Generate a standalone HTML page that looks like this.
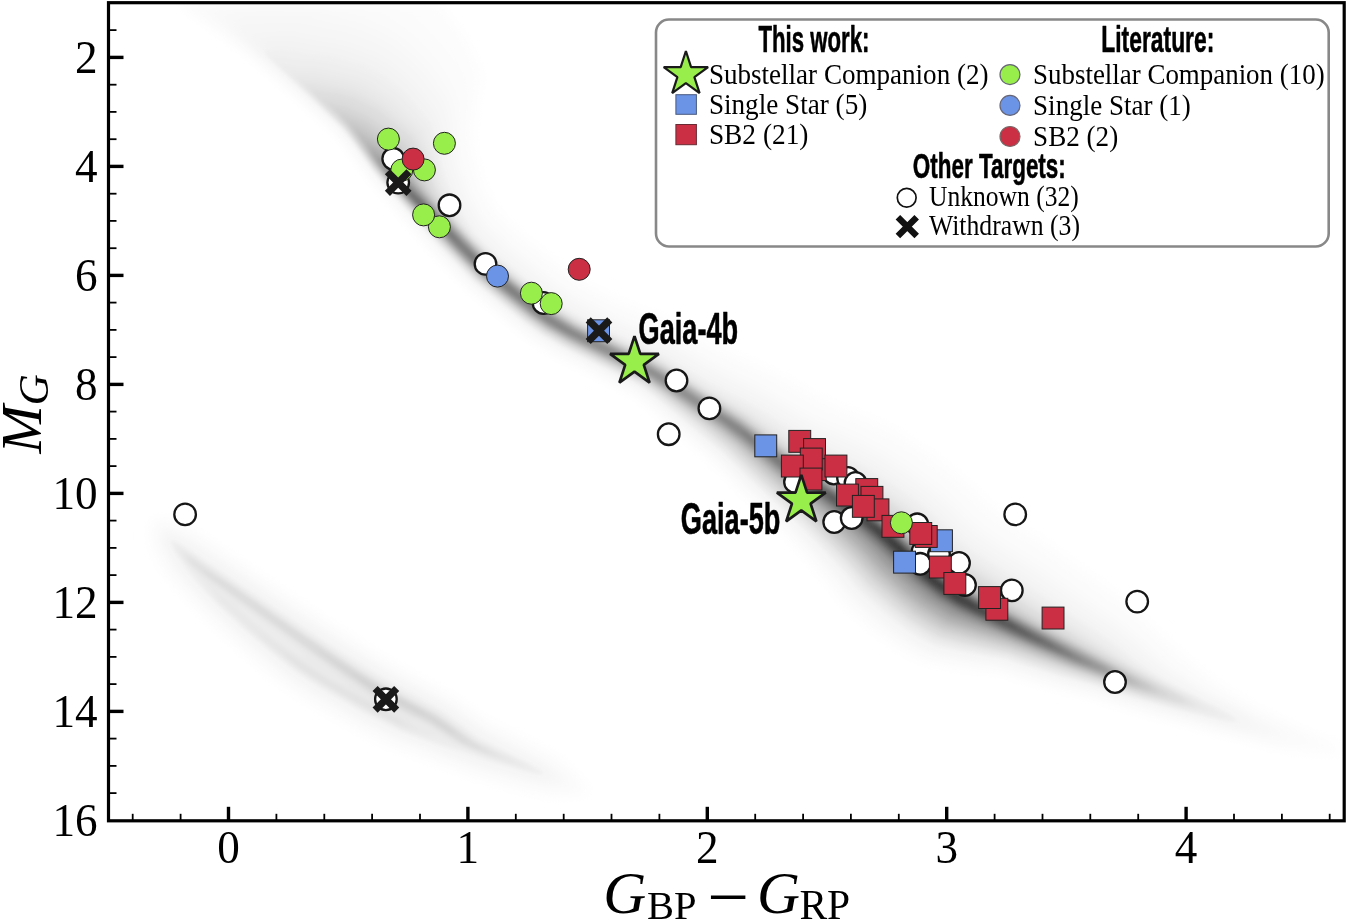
<!DOCTYPE html>
<html lang="en"><head><meta charset="utf-8"><title>Gaia colour-magnitude diagram</title>
<style>html,body{margin:0;padding:0;background:#fff;overflow:hidden}svg{display:block}text{font-family:"Liberation Serif","DejaVu Serif",serif;fill:#000}.cb{font-family:"Liberation Sans","DejaVu Sans",sans-serif;font-weight:bold}.u{fill:#fff;stroke:#161616;stroke-width:2.3}.g{fill:#98ee4a;stroke:#222;stroke-width:1}.b{fill:#6b93e6;stroke:#222;stroke-width:1}.r{fill:#cb2f43;stroke:#222;stroke-width:1}.x{stroke:#1a1a1a;stroke-width:7.2;fill:none}.s2{fill:#98ee4a;stroke:#1a1a1a;stroke-width:2.2;stroke-linejoin:bevel}.s{fill:#98ee4a;stroke:#1a1a1a;stroke-width:2.7;stroke-linejoin:bevel}</style></head><body>
<svg width="1347" height="922" viewBox="0 0 1347 922">
<defs><filter id="bl" x="-5%" y="-5%" width="110%" height="110%"><feGaussianBlur stdDeviation="1.6"/></filter><filter id="bl2" x="-5%" y="-5%" width="110%" height="110%"><feGaussianBlur stdDeviation="7"/></filter><clipPath id="cp"><rect x="108.5" y="2.7" width="1235.7" height="818.0999999999999"/></clipPath></defs>
<rect width="1347" height="922" fill="#fff"/>
<g clip-path="url(#cp)"><g filter="url(#bl2)">
<path fill="rgb(252,252,252)" fill-rule="evenodd" d="M174.3,0.0 434.4,0.0 446.0,12.6 462.0,33.3 469.2,46.0 478.9,68.0 481.5,80.0 476.6,100.0 476.5,108.0 473.9,120.0 472.9,136.0 474.4,152.0 479.2,172.0 483.6,186.0 496.0,209.7 520.0,233.6 570.0,273.3 593.5,288.0 622.0,302.0 662.0,317.3 680.0,325.2 732.0,353.6 758.0,364.5 780.0,375.3 823.9,400.0 890.0,426.9 923.0,448.0 950.0,467.7 964.6,480.0 996.1,510.0 1044.0,540.9 1130.0,604.0 1176.0,648.9 1196.0,665.1 1210.1,678.0 1256.0,708.1 1302.0,729.6 1334.0,742.7 1342.2,748.0 1344.5,752.0 1340.1,754.0 1322.0,754.0 1284.0,748.7 1266.0,745.0 1138.0,711.0 1088.0,695.1 1056.0,687.7 1016.0,676.9 1000.0,671.7 956.0,667.5 922.0,661.6 896.0,646.9 877.9,634.0 846.0,607.5 826.0,580.9 794.0,543.6 772.1,520.0 748.0,497.9 710.0,459.2 646.0,402.8 634.6,394.0 562.0,357.0 538.0,342.8 520.0,329.7 468.0,286.4 433.1,250.0 370.8,176.0 346.0,141.9 333.9,128.0 251.9,56.0ZM150.9,522.0 154.0,518.3 156.0,517.4 170.0,519.0 178.0,521.4 192.0,528.7 322.3,618.0 380.3,656.0 404.0,670.0 450.0,694.7 488.0,721.4 532.0,742.5 556.0,756.3 573.1,770.0 578.0,776.8 589.1,788.0 590.0,792.6 584.0,795.4 570.0,795.6 562.0,797.0 548.0,796.4 522.0,790.8 476.0,777.2 388.0,745.4 348.0,724.9 310.0,703.2 282.0,684.8 248.0,657.0 204.0,616.4 176.0,586.2 163.1,570.0 152.9,552.0 149.3,538.0Z"/>
<path fill="rgb(250,250,250)" fill-rule="evenodd" d="M181.6,0.0 369.6,0.0 380.0,4.5 404.0,18.4 418.3,30.0 437.4,50.0 447.4,64.0 460.7,88.0 463.2,98.0 462.0,106.0 462.6,124.0 461.5,136.0 462.9,156.0 473.7,192.0 486.4,216.0 490.0,220.8 509.4,240.0 556.7,278.0 573.5,290.0 595.0,302.0 616.0,312.3 674.0,336.2 724.0,364.2 764.0,382.8 816.0,412.7 868.0,434.9 884.0,442.6 916.0,463.3 938.7,480.0 952.0,491.0 977.5,516.0 988.0,524.7 1038.0,556.8 1124.0,618.0 1171.7,662.0 1206.0,688.8 1254.0,714.1 1293.9,732.0 1309.2,740.0 1314.7,744.0 1310.0,745.7 1288.0,744.6 1258.0,739.0 1134.0,706.1 1090.0,691.9 1054.0,683.1 1000.0,667.2 958.0,662.3 926.0,656.2 900.0,641.4 880.0,626.9 850.4,602.0 837.0,584.0 800.0,542.0 774.0,515.1 746.6,490.0 710.7,454.0 650.0,401.8 637.5,392.0 564.0,354.7 540.0,340.8 524.0,329.4 470.0,284.8 434.7,248.0 381.3,186.0 366.7,168.0 348.0,141.7 334.0,125.7 250.8,52.0ZM156.0,523.0 160.0,522.4 180.1,530.0 204.0,543.0 313.0,618.0 374.2,658.0 401.1,674.0 448.0,699.3 486.0,726.4 524.0,745.3 542.0,755.8 570.0,777.2 579.6,786.0 580.0,788.0 578.0,789.7 572.0,790.1 538.0,787.1 516.0,782.7 474.0,770.8 425.2,752.0 392.0,740.9 350.0,719.5 308.0,695.3 286.0,680.7 250.0,650.8 208.0,612.2 180.0,582.3 167.6,566.0 160.0,550.9 154.2,526.0Z"/>
<path fill="rgb(248,248,248)" fill-rule="evenodd" d="M206.0,10.5 228.0,12.3 242.0,8.0 262.0,5.0 274.0,5.2 282.0,6.5 304.0,6.3 320.0,9.0 340.0,15.1 356.0,18.1 370.0,23.6 388.0,32.1 396.0,36.8 410.0,47.9 428.0,65.9 437.0,78.0 451.7,102.0 452.8,106.0 452.7,114.0 454.5,126.0 454.2,140.0 456.7,162.0 467.9,196.0 482.0,221.5 485.5,226.0 505.8,246.0 554.0,284.6 570.0,296.0 587.6,306.0 612.0,318.0 650.0,333.4 672.0,343.4 720.0,370.8 762.0,391.0 810.0,419.4 864.0,443.5 882.0,452.8 910.0,471.0 934.0,488.7 946.0,498.7 970.0,522.3 982.0,532.3 1010.0,551.0 1030.0,563.0 1118.0,624.3 1172.4,672.0 1206.0,693.9 1278.0,728.9 1287.3,734.0 1292.0,738.1 1286.0,740.0 1274.0,739.0 1238.0,731.3 1134.0,703.6 1091.5,690.0 1062.0,682.8 1000.0,664.3 964.0,659.7 928.0,652.5 900.0,636.3 883.3,624.0 854.0,599.2 838.0,578.7 796.0,532.6 777.6,514.0 748.0,487.1 722.0,460.8 696.0,437.6 648.0,397.4 634.5,388.0 564.0,352.6 544.0,341.2 524.0,327.1 470.0,282.6 436.0,247.2 379.1,182.0 369.4,170.0 348.0,139.9 337.9,128.0 254.0,52.2 209.3,16.0 205.2,12.0ZM158.0,527.8 160.0,525.8 164.0,526.7 202.0,546.5 312.4,622.0 364.5,656.0 397.8,676.0 444.0,700.9 484.0,729.6 524.0,750.6 556.0,771.1 568.4,780.0 571.4,784.0 570.7,786.0 566.0,786.6 558.0,785.6 516.0,777.8 488.0,770.8 468.0,764.6 425.7,748.0 392.0,736.4 354.0,717.1 310.0,691.6 290.0,678.6 262.0,655.5 211.6,610.0 192.0,589.7 178.1,574.0 171.5,564.0 161.1,540.0Z"/>
<path fill="rgb(246,246,246)" fill-rule="evenodd" d="M230.0,26.8 234.0,24.8 250.0,22.0 272.0,22.4 286.0,20.9 300.0,21.8 320.0,25.6 330.0,28.6 342.0,30.0 350.0,32.1 380.0,43.8 390.0,49.2 410.0,65.3 420.0,75.2 438.8,100.0 444.9,110.0 448.9,132.0 450.0,154.0 452.3,166.0 464.5,200.0 480.0,227.1 502.9,250.0 553.0,290.0 567.3,300.0 584.7,310.0 612.0,323.3 668.0,347.2 718.0,375.9 742.0,387.1 762.0,397.6 810.0,426.5 860.0,449.1 880.0,459.7 906.0,476.7 929.6,494.0 942.0,504.4 968.0,529.8 978.0,538.0 1030.0,571.3 1118.0,631.9 1166.0,673.4 1204.6,696.0 1236.0,711.0 1266.0,726.8 1274.4,732.0 1275.4,734.0 1264.0,734.2 1228.0,726.8 1132.0,701.2 1090.9,688.0 1056.0,679.1 1002.0,662.5 966.0,657.4 936.0,651.5 928.0,649.1 902.3,634.0 886.0,622.0 855.6,596.0 838.0,574.0 802.0,535.2 776.7,510.0 750.0,485.7 722.0,457.8 653.9,400.0 637.7,388.0 564.0,351.0 540.0,337.0 524.0,325.4 472.0,282.8 436.5,246.0 378.4,180.0 368.9,168.0 352.0,143.8 338.0,126.9 254.0,50.1 230.8,30.0 229.5,28.0ZM162.0,530.0 164.0,529.7 168.0,531.3 200.0,549.4 310.0,624.0 349.9,650.0 395.9,678.0 442.0,703.0 456.0,712.3 482.0,732.1 548.0,768.9 558.9,776.0 564.9,782.0 562.0,783.3 558.0,783.1 538.0,779.2 480.0,765.0 454.0,756.2 392.0,732.9 354.0,713.4 312.0,688.9 292.0,675.8 264.0,652.8 214.0,608.0 194.6,588.0 180.7,572.0 174.6,562.0 162.8,538.0 161.3,532.0Z"/>
<path fill="rgb(244,244,244)" fill-rule="evenodd" d="M242.6,36.0 246.0,34.8 262.0,34.6 280.0,32.8 292.0,33.1 304.0,34.7 320.0,38.6 334.0,40.1 348.0,43.5 376.0,53.7 388.0,60.7 406.0,74.7 414.0,82.5 432.0,104.6 438.6,114.0 444.4,136.0 445.9,154.0 449.1,170.0 462.0,203.3 477.6,230.0 500.0,252.3 552.0,293.9 569.9,306.0 588.4,316.0 609.0,326.0 650.0,343.2 670.0,352.8 712.0,377.4 758.0,400.6 810.0,431.9 872.0,461.0 900.0,479.0 923.5,496.0 938.0,508.0 962.5,532.0 974.4,542.0 1002.0,560.4 1026.0,575.0 1114.0,635.0 1164.4,676.0 1204.0,697.8 1237.3,714.0 1259.4,728.0 1256.0,729.1 1246.0,728.3 1228.0,724.9 1132.0,699.7 1092.0,686.8 1056.0,677.5 1002.0,660.8 962.0,654.5 932.0,647.9 916.0,639.5 900.0,629.2 882.0,615.2 857.4,594.0 838.0,570.2 802.1,532.0 778.0,508.4 752.0,485.0 722.0,455.3 656.1,400.0 640.0,387.9 566.0,350.8 542.0,337.0 522.0,322.5 472.0,281.4 437.7,246.0 380.9,182.0 371.1,170.0 350.0,140.1 340.0,127.9 247.7,42.0ZM164.8,534.0 166.0,533.3 170.0,534.7 198.0,551.6 240.0,579.1 308.0,625.9 362.0,660.6 398.1,682.0 444.0,707.2 458.0,716.9 476.0,731.5 486.0,738.0 546.0,769.8 555.4,776.0 557.3,778.0 557.0,780.0 552.0,780.1 538.0,777.3 476.0,760.8 452.0,753.0 398.0,733.0 362.0,715.0 314.0,687.1 294.0,674.0 278.0,661.3 244.0,632.3 213.0,604.0 195.8,586.0 182.5,570.0 167.4,544.0 164.9,538.0Z"/>
<path fill="rgb(242,242,242)" fill-rule="evenodd" d="M256.6,46.0 258.0,44.2 268.0,42.4 280.0,42.0 300.0,44.1 316.0,47.6 330.0,48.6 344.0,51.9 368.0,59.7 384.0,68.1 400.0,80.0 408.0,87.2 434.0,118.2 441.3,142.0 443.1,158.0 446.1,172.0 458.7,204.0 475.7,232.0 498.0,254.2 550.3,296.0 568.0,308.0 586.4,318.0 668.0,355.3 713.2,382.0 758.0,404.8 804.0,433.3 870.0,465.0 900.0,484.3 924.0,502.0 935.9,512.0 960.3,536.0 972.5,546.0 1024.0,578.9 1112.0,638.4 1138.3,660.0 1154.6,672.0 1167.1,680.0 1229.6,712.0 1239.6,718.0 1246.6,724.0 1240.0,724.9 1230.0,723.5 1172.0,709.2 1126.0,696.7 1092.0,685.5 1060.0,677.2 1004.0,659.8 960.0,652.4 934.0,646.4 920.0,639.3 904.0,629.3 890.0,618.9 858.8,592.0 838.0,567.1 798.0,525.3 748.0,479.0 722.0,453.3 654.0,396.8 638.8,386.0 568.0,350.7 544.0,337.2 524.0,323.0 472.0,280.3 438.0,245.2 383.3,184.0 371.8,170.0 352.0,141.7 340.0,127.0 260.8,52.0ZM168.0,537.0 170.0,537.0 174.0,538.8 236.0,579.1 306.9,628.0 350.3,656.0 396.0,683.3 442.0,708.6 456.0,718.3 478.2,736.0 492.4,744.0 536.5,766.0 546.3,772.0 550.1,776.0 548.0,777.2 540.0,776.2 484.0,760.7 450.0,750.3 402.0,732.8 366.0,715.3 314.0,685.0 296.0,673.2 278.0,659.2 250.0,635.5 215.2,604.0 196.5,584.0 183.8,568.0 170.1,546.0 167.6,540.0Z"/>
</g><g filter="url(#bl)">
<path fill="rgb(240,240,240)" fill-rule="evenodd" d="M264.5,52.0 266.0,50.3 282.0,50.3 296.0,51.8 310.0,54.7 330.0,56.3 366.0,66.7 382.0,75.3 396.0,85.4 405.8,94.0 430.3,122.0 438.2,144.0 440.2,160.0 446.0,180.0 456.9,206.0 474.0,232.8 497.3,256.0 549.8,298.0 564.4,308.0 582.3,318.0 606.8,330.0 654.0,351.0 670.0,359.2 711.0,384.0 752.0,405.0 804.0,437.1 862.0,464.7 900.0,488.8 922.0,505.1 932.6,514.0 960.0,540.7 974.6,552.0 1024.0,583.2 1110.0,641.0 1136.5,662.0 1154.1,674.0 1167.7,682.0 1229.1,714.0 1236.8,720.0 1236.0,721.0 1232.0,721.5 1224.0,720.4 1182.0,710.7 1132.0,697.4 1090.6,684.0 1060.0,676.0 1006.0,659.1 956.0,649.8 934.0,644.3 922.0,638.2 905.6,628.0 886.0,613.0 860.0,590.2 845.1,572.0 808.0,533.1 782.0,507.8 749.0,478.0 722.0,451.4 654.6,396.0 637.1,384.0 566.0,348.8 542.0,335.0 526.0,323.5 474.0,281.2 438.0,244.2 380.5,180.0 370.9,168.0 350.0,138.2 340.0,126.1 268.9,58.0ZM170.3,542.0 172.0,539.9 182.0,545.3 327.9,644.0 375.9,674.0 442.0,711.0 478.2,738.0 528.0,762.8 539.9,770.0 544.1,774.0 538.0,774.2 528.0,771.9 496.0,762.7 464.0,752.1 444.0,746.6 400.0,730.7 364.0,712.7 320.0,687.3 298.0,673.0 280.0,659.2 246.0,630.4 217.1,604.0 198.7,584.0 190.0,573.3 175.1,552.0Z"/>
<path fill="rgb(238,238,238)" fill-rule="evenodd" d="M272.3,58.0 274.0,57.0 282.0,57.2 302.0,60.5 316.0,61.0 334.0,64.0 346.0,67.8 358.0,70.4 368.0,74.3 376.0,78.6 390.0,88.2 402.0,98.0 427.8,126.0 435.3,146.0 437.9,162.0 444.1,182.0 455.4,208.0 470.1,230.0 484.0,245.1 497.6,258.0 550.2,300.0 565.1,310.0 583.2,320.0 662.0,357.0 709.9,386.0 754.0,409.3 798.0,437.2 852.0,463.2 870.0,473.1 896.0,489.9 920.0,507.6 930.1,516.0 958.0,543.2 971.8,554.0 1064.0,613.5 1112.0,645.9 1141.6,668.0 1164.0,681.3 1218.5,710.0 1224.6,714.0 1228.4,718.0 1218.0,717.4 1172.0,707.1 1132.0,696.4 1093.8,684.0 1028.0,665.2 1006.0,657.7 964.0,649.9 934.0,642.7 906.0,626.2 888.0,612.4 862.3,590.0 846.0,570.4 806.0,529.0 753.0,480.0 722.2,450.0 650.9,392.0 638.8,384.0 568.0,349.0 544.0,335.4 524.0,321.1 474.0,280.3 438.6,244.0 382.7,182.0 372.9,170.0 356.0,145.6 342.0,127.6 282.5,70.0ZM173.2,544.0 174.0,543.1 178.0,544.3 194.0,554.4 304.2,630.0 359.6,666.0 396.9,688.0 438.0,710.4 454.0,721.3 475.8,738.0 490.5,746.0 524.0,761.9 536.5,770.0 534.0,771.5 528.0,770.6 482.0,757.2 462.6,750.0 441.0,744.0 402.0,730.4 366.0,712.6 318.0,684.8 296.0,670.3 276.0,654.6 248.0,630.8 218.0,603.3 204.1,588.0 186.0,565.6 176.4,552.0Z"/>
<path fill="rgb(236,236,236)" fill-rule="evenodd" d="M280.0,63.9 284.0,63.7 300.0,66.4 310.0,66.2 324.0,67.7 344.0,73.1 352.0,74.3 360.0,76.7 374.0,83.7 394.8,98.0 424.4,128.0 433.6,150.0 435.9,164.0 441.6,182.0 454.0,209.2 466.0,226.5 473.7,236.0 496.0,258.0 554.0,304.0 581.0,320.0 662.0,358.6 709.9,388.0 752.0,410.8 798.0,440.1 858.0,469.3 868.0,475.1 896.0,493.4 916.0,508.0 928.1,518.0 954.7,544.0 970.0,556.2 1064.0,616.8 1135.8,666.0 1164.0,682.5 1190.0,695.7 1211.2,708.0 1219.5,714.0 1218.0,714.7 1212.0,714.4 1172.0,706.2 1132.0,695.6 1096.0,683.8 1054.0,672.0 1004.0,656.0 962.0,648.2 940.0,642.9 932.0,640.0 908.0,625.6 888.0,610.3 864.0,589.3 846.0,568.1 806.0,527.0 756.0,481.2 728.0,453.8 697.8,428.0 643.7,386.0 566.0,347.3 542.0,333.4 522.0,318.7 474.0,279.6 439.3,244.0 384.9,184.0 373.4,170.0 354.0,142.1 342.0,126.8 299.7,86.0 284.4,70.0ZM176.0,547.1 178.0,546.1 194.0,555.6 308.2,634.0 360.5,668.0 394.1,688.0 440.0,713.0 477.2,740.0 521.8,762.0 528.1,766.0 529.6,768.0 526.0,768.5 520.0,767.4 492.0,759.4 456.0,746.2 427.8,738.0 400.0,728.6 364.0,710.4 320.0,684.9 298.0,670.6 278.0,655.0 248.7,630.0 218.3,602.0 186.1,564.0 177.8,552.0Z"/>
<path fill="rgb(234,234,234)" fill-rule="evenodd" d="M290.0,70.5 318.0,71.9 354.0,79.9 364.0,83.7 385.0,96.0 395.2,104.0 422.0,130.7 431.5,152.0 434.2,166.0 440.2,184.0 452.7,210.0 465.9,228.0 472.6,236.0 494.8,258.0 555.5,306.0 583.1,322.0 664.0,360.9 703.9,386.0 752.0,413.0 796.8,442.0 852.0,469.1 870.0,479.3 896.0,496.4 918.0,512.9 926.5,520.0 953.1,546.0 970.0,559.2 1022.0,592.1 1127.1,662.0 1164.0,683.5 1192.0,698.0 1210.0,710.3 1206.0,711.1 1192.0,709.6 1172.0,705.4 1132.0,694.8 1094.0,682.4 1064.0,674.0 1006.0,655.6 970.0,648.6 940.0,641.5 934.0,639.5 906.0,622.4 890.0,610.0 864.9,588.0 846.0,566.0 804.0,523.3 756.0,479.6 727.6,452.0 691.8,422.0 656.1,394.0 642.0,384.2 566.0,346.6 542.0,332.7 526.0,321.2 474.0,278.9 440.0,244.0 388.9,188.0 372.3,168.0 356.0,144.1 344.0,128.5 297.1,82.0 289.1,72.0ZM178.8,550.0 180.0,548.9 182.0,549.5 192.0,555.2 309.6,636.0 361.8,670.0 392.0,688.0 434.0,710.5 450.0,721.0 475.5,740.0 515.4,760.0 521.5,764.0 522.5,766.0 511.4,764.0 480.0,754.6 452.0,742.8 435.3,734.0 435.3,736.0 428.6,736.0 412.0,731.8 398.0,726.7 362.0,708.3 318.0,682.7 298.0,669.5 275.8,652.0 248.0,628.0 220.0,602.0 203.1,580.0 187.4,564.0 181.5,556.0ZM237.3,606.0 254.0,622.0 279.5,642.0 297.5,654.0 304.0,657.0 305.3,656.0 294.7,646.0 245.7,610.0 239.1,606.0Z"/>
<path fill="rgb(232,232,232)" fill-rule="evenodd" d="M295.7,76.0 300.0,75.2 316.0,76.2 352.0,83.8 362.0,87.5 380.7,98.0 396.0,109.9 419.1,132.0 429.0,152.0 434.0,172.0 439.2,186.0 450.1,208.0 460.0,222.0 472.0,236.4 493.8,258.0 554.3,306.0 581.5,322.0 662.0,360.8 705.2,388.0 750.0,413.7 796.2,444.0 850.0,470.6 868.0,480.8 892.0,496.4 914.0,512.6 925.3,522.0 952.0,548.1 970.0,562.0 1016.0,590.9 1128.0,664.0 1193.0,700.0 1198.4,704.0 1201.3,708.0 1194.0,708.5 1182.0,706.8 1146.0,698.0 1034.0,664.0 1008.0,655.2 956.0,644.4 936.0,638.8 923.4,632.0 906.0,620.7 890.0,608.2 864.9,586.0 846.0,564.0 800.0,518.0 758.0,480.0 728.0,451.0 690.6,420.0 659.9,396.0 642.8,384.0 568.0,347.0 544.0,333.4 524.0,319.0 474.0,278.2 440.0,243.4 391.0,190.0 372.7,168.0 358.0,146.3 344.0,127.8 303.9,88.0 295.5,78.0ZM181.6,552.0 184.0,551.9 192.0,556.2 308.3,636.0 360.2,670.0 393.8,690.0 436.0,712.7 478.0,742.4 509.1,758.0 515.1,762.0 510.0,762.3 500.6,760.0 472.0,750.7 452.0,741.2 427.6,726.0 413.4,720.0 409.2,720.0 419.0,730.0 418.0,730.7 410.8,730.0 398.6,726.0 360.0,706.2 316.0,680.4 297.3,668.0 263.3,640.0 220.6,600.0 218.6,596.0 220.0,595.2 256.0,626.6 290.1,652.0 317.4,670.0 334.3,680.0 347.3,686.0 348.8,686.0 347.7,684.0 282.1,634.0 210.0,583.2 198.0,573.3 188.6,564.0 184.0,558.0Z"/>
<path fill="rgb(230,230,230)" fill-rule="evenodd" d="M300.0,79.3 318.0,80.7 334.0,84.5 344.0,85.9 356.0,89.3 376.9,100.0 386.0,106.0 408.9,126.0 417.0,134.0 427.6,154.0 432.9,174.0 437.4,186.0 448.7,208.0 455.9,218.0 472.0,237.2 493.0,258.0 553.3,306.0 580.2,322.0 646.0,353.3 664.0,362.7 706.8,390.0 750.0,415.3 792.5,444.0 810.0,453.6 854.0,474.9 868.0,483.2 892.0,499.0 914.0,515.3 924.0,523.7 951.0,550.0 966.3,562.0 1116.3,658.0 1190.0,699.4 1195.4,704.0 1196.6,706.0 1192.0,706.9 1182.0,705.9 1146.0,697.4 1032.0,662.4 1008.0,654.2 968.0,645.9 940.0,638.8 928.0,633.2 908.0,620.6 891.8,608.0 866.0,585.4 846.0,562.2 800.0,516.5 758.0,478.7 728.0,449.7 702.1,428.0 658.3,394.0 643.9,384.0 566.0,345.4 544.0,332.8 528.0,321.5 476.0,279.5 440.0,242.8 391.4,190.0 373.1,168.0 358.0,145.7 344.0,127.2 305.2,88.0 300.4,82.0ZM184.5,556.0 186.0,554.4 192.0,557.3 304.1,634.0 362.1,672.0 392.4,690.0 436.0,713.5 448.0,721.4 470.0,738.2 505.6,758.0 504.0,758.9 497.1,758.0 470.0,749.0 454.0,741.1 426.6,724.0 376.0,701.4 284.1,634.0 204.0,576.8 189.9,564.0ZM262.0,634.5 324.0,676.1 348.7,690.0 376.0,702.7 402.0,718.7 409.8,726.0 408.0,727.2 401.8,726.0 384.3,718.0 357.8,704.0 320.2,682.0 298.8,668.0 286.1,658.0 261.6,636.0Z"/>
<path fill="rgb(227,227,227)" fill-rule="evenodd" d="M304.0,83.8 306.0,83.2 316.0,84.2 342.0,89.0 354.0,92.3 373.6,102.0 382.0,107.1 404.7,126.0 415.3,136.0 426.3,156.0 431.2,174.0 438.6,192.0 448.0,208.6 459.9,224.0 472.0,237.9 492.2,258.0 552.4,306.0 579.1,322.0 660.0,361.2 705.4,390.0 744.0,412.8 792.0,445.5 810.0,455.5 856.0,478.1 892.0,501.3 912.0,516.1 922.0,524.4 950.0,551.7 966.0,564.1 1088.0,642.3 1131.4,668.0 1182.5,696.0 1188.7,700.0 1192.7,704.0 1190.0,705.3 1178.0,704.2 1140.0,695.2 1030.0,660.9 1008.0,653.3 944.0,638.9 934.0,635.2 909.3,620.0 892.0,606.6 866.4,584.0 846.0,560.5 811.4,526.0 758.0,477.4 728.0,448.5 700.9,426.0 659.3,394.0 642.0,382.3 566.0,344.9 542.0,331.0 526.0,319.4 476.0,278.9 440.0,242.2 388.3,186.0 373.5,168.0 356.0,142.3 344.0,126.6 311.9,94.0ZM187.2,558.0 188.0,557.1 191.2,558.0 233.7,586.0 306.0,636.0 357.8,670.0 391.0,690.0 434.0,713.0 446.0,720.8 470.0,739.1 498.4,756.0 496.0,756.3 485.9,754.0 462.0,744.5 428.7,724.0 392.0,706.9 374.0,697.2 208.0,578.4 195.4,568.0 188.0,560.2ZM284.1,654.0 286.9,654.0 332.0,682.9 374.0,705.2 402.1,722.0 402.1,724.0 395.8,722.0 374.9,712.0 332.2,688.0 300.6,668.0Z"/>
<path fill="rgb(225,225,225)" fill-rule="evenodd" d="M309.1,88.0 310.0,87.2 314.0,87.5 328.0,90.5 340.0,91.9 358.0,97.6 378.0,108.1 408.0,132.4 413.6,138.0 425.0,158.0 430.1,176.0 435.1,188.0 444.0,203.9 454.1,218.0 470.0,236.4 491.5,258.0 551.6,306.0 578.1,322.0 662.0,362.9 704.2,390.0 746.0,415.1 792.0,447.1 811.4,458.0 846.0,474.9 864.0,485.1 892.0,503.5 912.0,518.4 921.1,526.0 949.9,554.0 966.0,566.3 1088.0,643.9 1180.0,695.6 1187.7,702.0 1186.0,703.6 1184.0,703.9 1176.0,702.8 1140.0,694.6 1006.4,652.0 962.0,642.5 940.0,636.6 928.0,630.5 910.0,619.1 894.0,606.7 868.0,583.8 846.0,558.9 810.0,523.2 758.0,476.1 728.0,447.4 702.2,426.0 660.3,394.0 642.5,382.0 568.0,345.4 542.0,330.5 526.0,318.9 476.0,278.4 440.3,242.0 388.6,186.0 373.9,168.0 347.3,130.0 315.0,96.0ZM192.0,561.1 232.0,585.8 302.0,634.1 350.5,666.0 389.8,690.0 436.0,714.9 448.0,722.9 468.0,738.5 489.8,752.0 488.0,752.8 482.7,752.0 462.0,743.7 430.0,723.8 376.0,697.0 332.0,666.7 209.2,578.0 197.2,568.0 191.7,562.0Z"/>
<path fill="rgb(222,222,222)" fill-rule="evenodd" d="M314.0,91.2 342.0,95.4 356.0,100.0 374.0,109.1 381.7,114.0 410.0,137.3 423.0,158.0 426.6,170.0 434.6,190.0 443.0,204.0 451.8,216.0 470.0,237.0 490.9,258.0 548.0,304.0 559.7,312.0 577.2,322.0 646.0,355.1 664.0,364.7 706.3,392.0 744.0,414.6 792.0,448.4 812.0,459.9 854.0,481.0 888.0,502.7 910.0,518.9 920.0,527.2 948.0,554.5 965.6,568.0 1082.7,642.0 1175.5,694.0 1184.0,700.0 1183.5,702.0 1172.0,701.2 1140.0,694.1 1008.0,651.7 962.0,641.5 940.0,635.5 924.0,626.9 910.3,618.0 894.9,606.0 868.0,582.3 846.0,557.4 810.1,522.0 760.0,476.8 728.0,446.3 703.4,426.0 658.4,392.0 643.4,382.0 568.0,345.0 544.0,331.3 526.0,318.4 478.0,279.7 440.7,242.0 387.2,184.0 374.2,168.0 348.0,130.2 318.0,98.0 313.6,92.0ZM202.0,569.9 208.0,572.0 227.7,584.0 302.0,634.9 362.0,674.0 392.3,692.0 439.8,718.0 480.7,748.0 480.0,749.9 462.0,742.8 428.1,722.0 392.0,704.7 374.0,694.7 328.0,662.9 211.2,578.0Z"/>
<path fill="rgb(219,219,219)" fill-rule="evenodd" d="M322.5,100.0 324.0,98.3 340.0,100.2 348.0,102.4 370.0,112.2 381.8,120.0 407.1,140.0 421.6,162.0 424.6,172.0 433.5,192.0 445.8,210.0 470.0,238.1 492.1,260.0 549.6,306.0 575.7,322.0 644.0,354.9 666.0,366.8 698.2,388.0 742.0,414.7 794.4,452.0 862.0,489.0 886.0,504.7 908.0,520.9 918.8,530.0 947.7,558.0 966.5,572.0 1042.5,620.0 1086.4,646.0 1152.0,681.9 1172.1,694.0 1176.8,698.0 1174.0,699.3 1166.0,698.5 1138.0,692.6 1010.0,650.9 946.0,635.3 936.8,632.0 913.7,618.0 897.9,606.0 870.0,581.4 852.0,560.9 808.3,518.0 762.0,476.5 728.0,444.4 700.3,422.0 657.1,390.0 644.9,382.0 566.0,343.2 544.0,330.5 528.0,319.1 478.0,278.9 441.5,242.0 391.3,188.0 374.7,168.0 348.0,129.1ZM254.0,605.2 256.3,606.0 256.0,607.3 253.7,606.0ZM256.4,608.0 258.0,607.4 302.0,636.6 368.0,678.9 437.8,718.0 451.9,728.0 468.0,742.2 464.1,742.0 459.9,740.0 430.0,721.6 392.0,703.2 374.0,693.1 326.3,660.0Z"/>
<path fill="rgb(215,215,215)" fill-rule="evenodd" d="M328.1,104.0 330.0,103.2 346.0,106.6 366.0,114.9 380.0,123.7 406.0,143.6 419.6,164.0 424.6,178.0 431.6,192.0 447.9,214.0 460.1,228.0 493.5,262.0 551.4,308.0 578.1,324.0 646.0,356.7 668.0,368.9 699.9,390.0 744.0,417.1 791.9,452.0 811.8,464.0 854.0,486.8 886.0,507.6 916.0,530.8 948.7,562.0 977.4,582.0 1038.8,620.0 1076.6,642.0 1153.4,684.0 1165.3,692.0 1169.1,696.0 1164.0,696.4 1154.0,695.0 1134.0,690.6 1010.0,649.4 944.0,633.0 930.0,626.2 912.0,614.5 898.4,604.0 871.3,580.0 852.0,558.3 806.4,514.0 762.0,474.5 734.1,448.0 709.8,428.0 658.4,390.0 646.0,381.9 568.0,343.5 546.0,331.1 526.0,316.8 478.0,278.1 442.0,241.7 386.6,182.0 375.3,168.0 346.5,126.0ZM316.5,650.0 319.1,650.0 376.0,684.8 432.3,716.0 449.6,728.0 456.2,734.0 456.0,734.7 450.0,732.4 428.0,719.0 396.3,704.0 378.0,694.2 348.1,674.0Z"/>
<path fill="rgb(211,211,211)" fill-rule="evenodd" d="M336.0,108.2 348.0,111.7 367.6,120.0 402.0,144.3 416.8,164.0 423.4,180.0 428.7,190.0 445.4,212.0 464.0,233.1 492.7,262.0 550.4,308.0 576.9,324.0 646.0,357.4 670.0,370.9 701.8,392.0 742.0,416.8 796.0,456.0 850.0,486.6 884.0,508.8 910.0,528.5 943.1,560.0 964.3,576.0 1042.7,624.0 1077.9,644.0 1144.0,679.6 1154.2,686.0 1161.3,692.0 1160.0,693.4 1156.0,694.0 1146.0,692.6 1130.0,688.6 1072.0,669.7 1009.5,648.0 944.0,631.3 936.0,627.7 914.0,613.9 901.1,604.0 872.0,578.3 852.0,555.9 802.0,508.0 764.0,474.5 736.0,448.0 711.6,428.0 659.6,390.0 644.1,380.0 568.0,342.8 544.0,329.1 528.0,317.6 478.0,277.4 438.0,236.9 385.5,180.0 373.0,164.0 348.0,126.7 334.8,110.0ZM351.4,674.0 352.0,673.0 354.7,674.0 425.4,714.0 424.0,714.7 383.6,696.0 367.6,686.0Z"/>
<path fill="rgb(207,207,207)" fill-rule="evenodd" d="M340.9,114.0 342.0,113.6 358.0,119.4 368.0,124.1 400.0,146.2 415.5,166.0 422.0,181.0 430.1,194.0 447.9,216.0 468.0,238.3 492.0,262.1 549.5,308.0 575.8,324.0 648.0,359.0 670.0,371.6 700.7,392.0 744.0,419.0 794.3,456.0 848.0,487.1 884.0,510.8 912.0,532.5 945.0,564.0 964.1,578.0 1040.3,624.0 1142.8,680.0 1154.6,688.0 1156.5,690.0 1156.0,691.4 1154.0,692.3 1148.0,691.9 1124.0,686.1 1006.8,646.0 970.0,637.1 942.0,628.9 928.0,621.1 914.0,611.9 902.0,602.6 874.0,577.8 852.0,553.6 814.0,517.0 764.0,472.7 735.5,446.0 710.0,425.5 663.6,392.0 645.3,380.0 570.0,343.2 548.0,331.0 528.0,317.0 478.0,276.8 442.0,240.4 389.4,184.0 373.5,164.0 341.3,116.0Z"/>
<path fill="rgb(203,203,203)" fill-rule="evenodd" d="M346.5,120.0 348.0,119.5 354.0,121.2 364.9,126.0 398.0,148.0 414.3,168.0 420.9,182.0 427.5,192.0 444.0,212.3 468.0,238.9 493.6,264.0 548.7,308.0 574.8,324.0 646.0,358.6 668.0,371.0 746.0,421.2 795.9,458.0 848.0,488.5 882.0,511.1 908.0,531.0 940.4,562.0 961.4,578.0 986.9,594.0 1041.8,626.0 1134.0,675.9 1149.8,686.0 1152.0,688.0 1151.5,690.0 1144.0,690.1 1122.0,684.8 1074.0,668.9 1010.0,645.9 944.0,628.1 930.0,620.5 916.0,611.4 900.0,598.8 874.4,576.0 852.0,551.4 812.0,513.2 764.0,471.1 736.0,445.1 720.0,432.0 664.7,392.0 646.4,380.0 570.0,342.6 546.0,329.1 528.0,316.4 480.0,277.9 468.0,266.6 438.0,235.6 386.4,180.0 372.7,162.0Z"/>
<path fill="rgb(200,200,200)" fill-rule="evenodd" d="M351.0,124.0 352.0,123.5 366.0,129.9 396.6,150.0 413.3,170.0 419.5,182.0 426.4,192.0 446.5,216.0 468.4,240.0 492.9,264.0 548.0,308.1 573.8,324.0 646.0,359.2 670.0,372.9 701.7,394.0 742.0,419.1 780.3,448.0 797.7,460.0 850.0,490.9 880.0,511.0 906.0,530.9 938.5,562.0 959.2,578.0 978.0,590.0 1036.5,624.0 1136.0,678.0 1145.0,684.0 1148.6,688.0 1144.0,688.8 1138.0,688.1 1122.0,684.1 1076.0,668.9 1010.0,644.7 944.0,626.7 916.7,610.0 900.0,596.8 876.0,575.3 852.0,549.3 812.7,512.0 766.0,471.3 736.3,444.0 721.4,432.0 665.7,392.0 647.4,380.0 568.0,341.1 546.0,328.5 530.0,317.3 480.0,277.3 438.0,235.0 386.9,180.0 371.9,160.0 351.9,128.0Z"/>
<path fill="rgb(196,196,196)" fill-rule="evenodd" d="M354.0,127.7 358.0,128.6 366.0,133.0 395.8,152.0 412.0,171.0 415.6,178.0 426.0,192.6 468.0,240.2 492.3,264.0 550.0,310.0 572.9,324.0 644.0,358.7 666.0,370.9 744.0,421.2 782.0,450.0 796.5,460.0 848.0,490.6 878.0,510.8 904.0,530.6 939.3,564.0 960.4,580.0 982.9,594.0 1035.1,624.0 1124.0,671.8 1140.3,682.0 1144.7,686.0 1142.0,686.9 1136.0,686.6 1120.0,682.8 1072.0,666.9 1010.0,643.6 944.0,625.1 919.2,610.0 902.0,596.5 876.8,574.0 852.7,548.0 808.0,506.0 774.0,476.9 737.5,444.0 720.0,429.9 663.9,390.0 648.4,380.0 568.0,340.5 548.0,329.3 530.0,316.8 480.0,276.7 438.0,234.4 389.0,182.0 372.4,160.0 357.9,136.0Z"/>
<path fill="rgb(192,192,192)" fill-rule="evenodd" d="M357.9,132.0 360.0,132.4 380.2,144.0 394.0,153.1 411.0,172.0 418.3,184.0 438.3,208.0 481.1,254.0 494.0,266.0 549.3,310.0 572.0,324.0 644.0,359.2 666.0,371.5 740.0,419.1 795.5,460.0 848.0,491.6 880.0,513.2 908.0,535.2 940.2,566.0 958.9,580.0 984.7,596.0 1037.3,626.0 1122.9,672.0 1135.4,680.0 1139.7,684.0 1138.0,685.4 1132.0,684.8 1112.0,679.7 1070.0,665.5 1008.0,641.9 948.0,624.9 942.0,622.4 921.8,610.0 904.0,596.3 878.0,573.0 860.0,553.2 818.9,514.0 738.8,444.0 720.0,429.0 661.9,388.0 646.0,378.1 570.0,341.0 548.0,328.8 528.0,314.7 482.0,277.9 464.0,260.8 391.1,184.0 372.9,160.0 358.0,134.0Z"/>
<path fill="rgb(188,188,188)" fill-rule="evenodd" d="M362.0,136.2 392.1,154.0 409.3,172.0 420.5,188.0 443.0,214.0 482.0,255.5 495.9,268.0 548.6,310.0 574.9,326.0 644.0,359.7 668.0,373.3 742.0,421.0 794.5,460.0 846.0,491.1 878.0,512.6 906.0,534.5 941.4,568.0 960.5,582.0 983.3,596.0 1036.0,626.0 1114.0,667.6 1127.9,676.0 1135.9,682.0 1132.0,683.7 1110.0,678.5 1070.0,665.0 1008.0,641.1 946.0,622.9 920.0,607.0 904.0,594.4 879.0,572.0 860.0,551.2 818.0,511.4 768.0,469.1 739.9,444.0 719.8,428.0 650.3,380.0 631.4,370.0 568.0,339.5 546.0,327.0 530.0,315.7 482.0,277.4 465.7,262.0 393.2,186.0 373.4,160.0 362.0,139.1Z"/>
<path fill="rgb(184,184,184)" fill-rule="evenodd" d="M365.1,142.0 366.0,141.1 378.0,147.1 391.7,156.0 408.0,172.4 419.6,188.0 447.8,220.0 484.0,258.0 495.3,268.0 548.0,310.0 574.0,326.0 646.0,361.2 668.0,373.8 742.0,421.6 793.6,460.0 848.0,493.1 880.0,514.9 906.0,535.4 938.0,566.0 956.3,580.0 982.0,596.0 1031.3,624.0 1113.4,668.0 1131.1,680.0 1130.9,682.0 1118.0,680.1 1070.0,664.4 1008.0,640.2 947.4,622.0 921.0,606.0 905.7,594.0 880.0,570.9 860.0,549.2 818.3,510.0 776.0,474.8 738.6,442.0 720.8,428.0 663.7,388.0 647.8,378.0 572.0,341.1 550.0,329.0 530.0,315.2 482.0,276.9 466.0,261.7 395.4,188.0 377.7,166.0 370.4,154.0Z"/>
<path fill="rgb(180,180,180)" fill-rule="evenodd" d="M368.0,145.2 376.4,148.0 390.0,156.6 408.0,173.9 417.2,186.0 442.0,214.2 484.0,258.5 494.7,268.0 550.1,312.0 574.0,326.4 644.0,360.7 666.0,373.0 740.0,420.8 795.7,462.0 844.0,491.2 876.0,512.8 902.0,532.7 937.1,566.0 958.2,582.0 984.2,598.0 1030.3,624.0 1112.1,668.0 1124.5,676.0 1128.4,680.0 1122.0,680.1 1100.0,674.1 1068.0,663.1 998.4,636.0 950.0,621.5 939.1,616.0 922.0,605.0 906.0,592.4 881.1,570.0 860.0,547.2 824.6,514.0 780.0,477.2 739.7,442.0 721.8,428.0 652.0,379.9 630.0,368.3 568.0,338.6 548.0,327.3 530.0,314.7 482.0,276.4 466.0,261.2 395.7,188.0 378.0,165.7 370.0,151.9Z"/>
<path fill="rgb(175,175,175)" fill-rule="evenodd" d="M369.8,148.0 374.0,148.9 384.0,154.3 396.0,164.0 406.8,174.0 416.3,186.0 446.8,220.0 485.1,260.0 550.0,312.3 576.0,327.9 644.0,361.2 666.0,373.5 694.0,392.4 740.0,421.3 791.8,460.0 846.0,493.1 878.0,514.8 904.0,535.2 936.2,566.0 954.2,580.0 979.8,596.0 1032.9,626.0 1104.0,664.0 1120.2,674.0 1124.6,678.0 1120.0,678.6 1114.0,677.5 1086.0,668.9 1060.0,659.5 1006.0,637.8 948.0,619.2 922.9,604.0 907.6,592.0 882.0,568.9 858.0,543.3 826.5,514.0 780.0,476.2 743.0,444.0 725.5,430.0 697.5,410.0 649.6,378.0 570.0,339.1 548.0,326.8 530.0,314.1 484.0,277.6 467.3,262.0 396.1,188.0 378.0,164.9 371.7,154.0Z"/>
<path fill="rgb(167,167,167)" fill-rule="evenodd" d="M374.0,152.7 386.0,158.8 406.0,175.6 451.3,226.0 486.2,262.0 550.0,313.2 576.0,328.8 643.7,362.0 668.0,375.9 696.0,394.8 740.0,422.4 788.0,458.5 844.0,492.9 874.0,513.2 900.0,533.1 934.8,566.0 955.4,582.0 977.9,596.0 1031.0,626.0 1105.0,666.0 1116.3,674.0 1116.0,674.9 1112.0,675.1 1104.0,673.4 1076.0,664.5 994.4,632.0 950.0,617.3 924.9,602.0 909.6,590.0 884.0,566.8 858.6,540.0 829.8,514.0 780.0,474.5 742.5,442.0 724.7,428.0 698.0,409.1 650.0,377.2 570.0,338.2 548.2,326.0 531.1,314.0 484.0,276.6 468.0,261.7 396.9,188.0 379.8,166.0 374.2,156.0Z"/>
<path fill="rgb(159,159,159)" fill-rule="evenodd" d="M377.5,158.0 378.0,157.4 384.0,160.6 404.0,175.7 465.3,242.0 485.2,262.0 548.0,312.8 574.0,328.7 645.7,364.0 666.5,376.0 698.0,397.2 740.0,423.4 790.0,460.9 842.0,492.7 872.0,512.8 898.0,532.6 935.7,568.0 953.9,582.0 990.2,604.0 1095.5,662.0 1105.3,668.0 1109.3,672.0 1106.0,672.2 1098.0,670.4 1072.0,662.1 993.0,630.0 950.0,614.4 928.0,600.8 902.6,580.0 886.0,564.8 866.5,544.0 839.9,520.0 782.0,474.5 744.0,441.8 726.0,427.6 698.0,407.7 652.0,377.2 628.0,364.8 568.0,336.2 549.8,326.0 530.0,312.2 486.0,277.3 470.0,262.7 397.7,188.0 383.7,170.0 378.7,162.0Z"/>
<path fill="rgb(152,152,152)" fill-rule="evenodd" d="M382.0,162.9 394.0,169.7 404.4,178.0 464.3,242.0 486.0,263.7 550.0,315.1 572.0,328.6 639.6,362.0 667.7,378.0 698.0,398.5 742.0,425.9 790.0,461.9 844.0,494.9 874.0,515.2 900.0,535.3 934.5,568.0 955.5,584.0 978.0,598.0 1085.9,658.0 1101.9,668.0 1100.0,668.8 1096.0,668.3 1080.8,664.0 1040.0,648.6 1000.0,631.5 952.0,612.7 930.0,599.1 908.0,581.3 888.0,562.8 868.0,542.1 852.0,527.8 820.3,502.0 784.0,474.6 743.6,440.0 722.0,423.2 670.0,387.4 650.0,374.8 569.5,336.0 548.2,324.0 533.8,314.0 488.1,278.0 470.3,262.0 398.0,187.5 386.2,172.0 381.7,164.0Z"/>
<path fill="rgb(144,144,144)" fill-rule="evenodd" d="M386.8,170.0 388.0,168.8 392.0,170.7 404.0,179.4 424.0,199.4 464.0,242.8 484.0,262.9 548.0,314.8 574.0,330.8 655.7,372.0 700.0,401.5 728.2,418.0 746.1,430.0 790.0,462.9 844.0,495.8 878.0,519.0 904.0,539.7 935.7,570.0 954.1,584.0 980.0,600.0 1059.1,644.0 1092.4,664.0 1088.0,664.5 1078.3,662.0 1038.0,646.9 954.0,611.3 934.0,599.2 912.0,581.8 872.9,544.0 850.0,524.0 788.0,476.4 742.0,437.1 708.0,411.4 656.0,376.7 634.0,365.1 563.9,332.0 544.0,320.2 530.0,310.0 486.9,276.0 474.0,264.6 398.0,186.5Z"/>
<path fill="rgb(136,136,136)" fill-rule="evenodd" d="M391.3,174.0 394.0,174.3 398.0,176.7 409.2,186.0 427.3,204.0 464.0,244.0 490.0,269.3 546.0,314.8 564.0,326.7 587.7,340.0 584.1,340.0 559.2,328.0 545.7,320.0 531.7,310.0 483.4,272.0 424.0,213.1 402.0,190.0 394.1,180.0ZM712.3,412.0 714.9,412.0 738.2,426.0 788.0,462.6 842.0,495.4 874.0,517.0 902.0,538.9 937.0,572.0 955.9,586.0 982.2,602.0 1060.7,646.0 1082.8,660.0 1082.0,660.8 1078.0,660.3 1069.8,658.0 1034.0,644.3 958.0,611.3 938.0,599.7 916.0,582.8 861.8,532.0 832.2,508.0 784.3,472.0 742.0,435.4Z"/>
<path fill="rgb(129,129,129)" fill-rule="evenodd" d="M395.4,178.0 402.0,181.3 422.0,199.6 462.5,244.0 486.0,267.3 512.0,288.0 540.0,312.0 542.0,314.6 534.1,310.0 490.0,276.0 476.1,264.0 461.0,248.0 419.8,208.0 398.0,184.2ZM739.1,430.0 740.8,430.0 740.0,430.7ZM741.2,432.0 742.0,431.0 744.3,432.0 784.0,461.2 844.0,497.6 876.0,519.3 900.0,538.1 934.0,570.3 952.0,584.2 982.0,602.7 1052.0,642.0 1068.3,652.0 1073.1,656.0 1070.0,656.3 1062.0,654.0 1026.1,640.0 960.0,610.8 940.0,599.3 916.0,580.7 863.9,532.0 828.0,503.5 788.6,474.0 767.3,456.0Z"/>
<path fill="rgb(121,121,121)" fill-rule="evenodd" d="M400.0,182.3 408.0,188.0 425.1,204.0 456.9,240.0 456.0,241.1 418.0,204.9 399.2,184.0ZM457.2,242.0 458.0,241.4 458.5,242.0 458.0,242.6ZM468.0,251.7 468.0,253.1 467.4,252.0ZM470.0,253.4 470.0,255.9 468.5,254.0ZM470.1,256.0 472.0,255.4 472.0,257.9ZM472.1,258.0 474.0,257.4 474.0,259.8ZM474.2,260.0 476.0,259.5 476.0,261.6ZM476.5,262.0 478.0,261.6 478.0,263.2ZM479.0,264.0 480.3,264.0 480.0,264.7ZM481.1,266.0 482.4,266.0 482.0,266.7ZM766.0,451.5 768.0,451.6 794.0,469.0 836.8,494.0 874.0,518.7 898.0,537.2 934.0,571.2 953.6,586.0 980.0,602.2 1050.0,642.0 1064.3,652.0 1062.0,652.2 1054.0,649.9 1020.0,636.3 958.0,608.5 938.0,596.4 918.0,580.8 878.0,542.8 864.0,530.6 828.0,502.1 793.0,476.0 770.0,456.0Z"/>
<path fill="rgb(113,113,113)" fill-rule="evenodd" d="M408.0,191.3 410.0,191.7 423.7,204.0 439.0,222.0 438.0,222.6 422.0,207.8ZM439.4,224.0 440.0,222.9 440.8,224.0ZM785.2,466.0 786.4,466.0 786.0,466.9ZM786.7,468.0 788.0,467.3 832.0,492.0 872.0,518.1 898.0,538.0 934.0,572.0 954.0,587.0 1053.8,646.0 1052.0,647.3 1026.1,638.0 966.0,611.2 954.0,605.2 940.0,596.4 920.0,581.0 878.0,541.3 864.9,530.0 800.3,480.0Z"/>
<path fill="rgb(106,106,106)" fill-rule="evenodd" d="M801.1,478.0 802.0,477.2 804.0,477.7 819.7,486.0 856.0,508.0 876.3,522.0 896.0,537.2 930.8,570.0 946.0,582.3 974.0,600.3 1012.0,622.0 1044.5,642.0 1040.4,642.0 1029.0,638.0 982.9,618.0 956.0,605.2 940.0,595.2 920.0,579.6 868.8,532.0Z"/>
<path fill="rgb(98,98,98)" fill-rule="evenodd" d="M816.1,488.0 818.0,487.0 831.5,494.0 869.3,518.0 898.0,539.7 930.0,570.2 946.0,583.1 974.0,601.1 1013.5,624.0 1032.0,636.1 1028.4,636.0 980.6,616.0 956.0,604.0 940.0,594.0 920.0,578.3 874.0,535.1Z"/>
<path fill="rgb(91,91,91)" fill-rule="evenodd" d="M829.1,496.0 830.0,495.4 843.0,502.0 882.1,528.0 902.0,544.0 934.0,574.6 948.0,585.4 1017.3,628.0 1016.0,629.1 1012.0,628.1 978.5,614.0 956.0,603.0 938.8,592.0 920.0,577.0 876.0,535.5Z"/>
<path fill="rgb(83,83,83)" fill-rule="evenodd" d="M844.0,504.7 854.0,510.0 872.0,521.8 893.8,538.0 932.0,573.7 946.0,584.8 1005.5,622.0 1004.0,622.8 1000.9,622.0 972.2,610.0 956.2,602.0 937.6,590.0 922.0,577.5 882.0,539.5 843.5,506.0Z"/>
<path fill="rgb(75,75,75)" fill-rule="evenodd" d="M858.0,514.9 861.0,516.0 876.0,525.8 894.9,540.0 928.0,571.2 940.0,581.3 954.0,591.1 990.4,614.0 990.0,615.5 975.1,610.0 958.3,602.0 933.8,586.0 919.6,574.0 857.8,516.0Z"/>
<path fill="rgb(68,68,68)" fill-rule="evenodd" d="M874.0,526.8 880.2,530.0 898.5,544.0 936.0,579.4 978.0,608.3 970.0,606.1 957.2,600.0 933.1,584.0 898.0,552.0 873.7,528.0Z"/>
<path fill="rgb(60,60,60)" fill-rule="evenodd" d="M887.0,538.0 888.5,538.0 888.0,539.0ZM888.7,540.0 890.0,539.3 900.0,546.6 934.0,579.4 953.9,594.0 952.0,594.8 927.9,578.0 898.0,550.2ZM954.0,594.2 960.9,598.0 960.0,599.2 953.7,596.0Z"/>
</g></g>
<circle class="u" cx="185.1" cy="514.4" r="10.8"/>
<circle class="u" cx="393.2" cy="158.8" r="10.8"/>
<circle class="u" cx="398.2" cy="182.6" r="10.8"/>
<circle class="u" cx="449.5" cy="205.3" r="10.8"/>
<circle class="u" cx="485.5" cy="263.9" r="10.8"/>
<circle class="u" cx="543.5" cy="303.0" r="10.8"/>
<circle class="u" cx="676.5" cy="380.5" r="10.8"/>
<circle class="u" cx="709.4" cy="408.4" r="10.8"/>
<circle class="u" cx="668.7" cy="434.2" r="10.8"/>
<circle class="u" cx="795.0" cy="482.0" r="10.8"/>
<circle class="u" cx="833.8" cy="473.5" r="10.8"/>
<circle class="u" cx="848.0" cy="478.0" r="10.8"/>
<circle class="u" cx="855.5" cy="483.0" r="10.8"/>
<circle class="u" cx="834.2" cy="522.0" r="10.8"/>
<circle class="u" cx="851.7" cy="518.0" r="10.8"/>
<circle class="u" cx="917.2" cy="524.3" r="10.8"/>
<circle class="u" cx="922.5" cy="551.6" r="10.8"/>
<circle class="u" cx="920.2" cy="563.8" r="10.8"/>
<circle class="u" cx="939.0" cy="554.0" r="10.8"/>
<circle class="u" cx="959.0" cy="563.0" r="10.8"/>
<circle class="u" cx="965.0" cy="585.0" r="10.8"/>
<circle class="u" cx="1011.8" cy="590.4" r="10.8"/>
<circle class="u" cx="1015.2" cy="514.4" r="10.8"/>
<circle class="u" cx="1137.2" cy="601.6" r="10.8"/>
<circle class="u" cx="1115.0" cy="682.0" r="10.8"/>
<circle class="u" cx="385.9" cy="699.3" r="10.8"/>
<circle class="g" cx="388.4" cy="139.1" r="11.0"/>
<circle class="g" cx="444.4" cy="143.3" r="11.0"/>
<circle class="g" cx="401.8" cy="170.1" r="11.0"/>
<circle class="g" cx="424.4" cy="169.9" r="11.0"/>
<circle class="g" cx="439.4" cy="226.8" r="11.0"/>
<circle class="g" cx="423.6" cy="214.9" r="11.0"/>
<circle class="g" cx="531.4" cy="293.2" r="11.0"/>
<circle class="g" cx="551.2" cy="303.6" r="11.0"/>
<circle class="b" cx="497.5" cy="276.1" r="11.0"/>
<rect class="b" x="587.6" y="319.8" width="21.9" height="21.9"/>
<rect class="b" x="754.8" y="434.9" width="21.9" height="21.9"/>
<rect class="b" x="930.5" y="529.8" width="21.9" height="21.9"/>
<rect class="b" x="893.6" y="551.2" width="21.9" height="21.9"/>
<rect class="r" x="788.8" y="430.4" width="21.9" height="21.9"/>
<rect class="r" x="803.6" y="438.6" width="21.9" height="21.9"/>
<rect class="r" x="804.3" y="458.7" width="21.9" height="21.9"/>
<rect class="r" x="800.3" y="448.1" width="21.9" height="21.9"/>
<rect class="r" x="781.4" y="455.1" width="21.9" height="21.9"/>
<rect class="r" x="825.0" y="455.1" width="21.9" height="21.9"/>
<rect class="r" x="800.0" y="468.1" width="21.9" height="21.9"/>
<rect class="r" x="855.8" y="478.6" width="21.9" height="21.9"/>
<rect class="r" x="861.0" y="486.4" width="21.9" height="21.9"/>
<rect class="r" x="836.5" y="484.1" width="21.9" height="21.9"/>
<rect class="r" x="867.0" y="498.9" width="21.9" height="21.9"/>
<rect class="r" x="852.4" y="495.4" width="21.9" height="21.9"/>
<rect class="r" x="882.0" y="515.4" width="21.9" height="21.9"/>
<rect class="r" x="915.3" y="525.5" width="21.9" height="21.9"/>
<rect class="r" x="909.8" y="522.5" width="21.9" height="21.9"/>
<rect class="r" x="929.4" y="556.1" width="21.9" height="21.9"/>
<rect class="r" x="943.9" y="572.5" width="21.9" height="21.9"/>
<rect class="r" x="985.9" y="598.3" width="21.9" height="21.9"/>
<rect class="r" x="978.6" y="586.6" width="21.9" height="21.9"/>
<rect class="r" x="1042.1" y="607.1" width="21.9" height="21.9"/>
<circle class="g" cx="901.4" cy="522.8" r="11.0"/>
<circle class="r" cx="413.1" cy="159.1" r="11.0"/>
<circle class="r" cx="579.2" cy="269.3" r="11.0"/>
<path class="x" d="M387.4,171.8L409.0,193.4M387.4,193.4L409.0,171.8"/>
<path class="x" d="M588.2,319.9L609.8,341.5M588.2,341.5L609.8,319.9"/>
<path class="x" d="M375.1,688.5L396.7,710.1M375.1,710.1L396.7,688.5"/>
<polygon class="s" points="634.5,336.1 640.3,353.9 658.9,353.9 643.8,364.8 649.6,382.6 634.5,371.6 619.4,382.6 625.2,364.8 610.1,353.9 628.7,353.9"/>
<polygon class="s" points="801.3,474.9 807.1,492.7 825.7,492.7 810.6,503.6 816.4,521.4 801.3,510.4 786.2,521.4 792.0,503.6 776.9,492.7 795.5,492.7"/>
<text class="cb" x="638.6" y="344.1" font-size="44.5" textLength="99.6" lengthAdjust="spacingAndGlyphs" stroke="#000" stroke-width="0.6" stroke-linejoin="round">Gaia-4b</text>
<text class="cb" x="680.8" y="533.7" font-size="43.5" textLength="99.6" lengthAdjust="spacingAndGlyphs" stroke="#000" stroke-width="0.6" stroke-linejoin="round">Gaia-5b</text>
<rect x="108.5" y="2.7" width="1235.7" height="818.0999999999999" fill="none" stroke="#000" stroke-width="3.2"/>
<path d="M132.7,820.8V813.8" stroke="#000" stroke-width="1.8"/><path d="M180.6,820.8V813.8" stroke="#000" stroke-width="1.8"/><path d="M228.5,820.8V806.8" stroke="#000" stroke-width="3.4"/><path d="M276.4,820.8V813.8" stroke="#000" stroke-width="1.8"/><path d="M324.3,820.8V813.8" stroke="#000" stroke-width="1.8"/><path d="M372.1,820.8V813.8" stroke="#000" stroke-width="1.8"/><path d="M420.0,820.8V813.8" stroke="#000" stroke-width="1.8"/><path d="M467.9,820.8V806.8" stroke="#000" stroke-width="3.4"/><path d="M515.8,820.8V813.8" stroke="#000" stroke-width="1.8"/><path d="M563.7,820.8V813.8" stroke="#000" stroke-width="1.8"/><path d="M611.5,820.8V813.8" stroke="#000" stroke-width="1.8"/><path d="M659.4,820.8V813.8" stroke="#000" stroke-width="1.8"/><path d="M707.3,820.8V806.8" stroke="#000" stroke-width="3.4"/><path d="M755.2,820.8V813.8" stroke="#000" stroke-width="1.8"/><path d="M803.1,820.8V813.8" stroke="#000" stroke-width="1.8"/><path d="M850.9,820.8V813.8" stroke="#000" stroke-width="1.8"/><path d="M898.8,820.8V813.8" stroke="#000" stroke-width="1.8"/><path d="M946.7,820.8V806.8" stroke="#000" stroke-width="3.4"/><path d="M994.6,820.8V813.8" stroke="#000" stroke-width="1.8"/><path d="M1042.5,820.8V813.8" stroke="#000" stroke-width="1.8"/><path d="M1090.3,820.8V813.8" stroke="#000" stroke-width="1.8"/><path d="M1138.2,820.8V813.8" stroke="#000" stroke-width="1.8"/><path d="M1186.1,820.8V806.8" stroke="#000" stroke-width="3.4"/><path d="M1234.0,820.8V813.8" stroke="#000" stroke-width="1.8"/><path d="M1281.9,820.8V813.8" stroke="#000" stroke-width="1.8"/><path d="M1329.7,820.8V813.8" stroke="#000" stroke-width="1.8"/><path d="M108.5,30.1H116.5" stroke="#000" stroke-width="1.8"/><path d="M108.5,57.4H123.5" stroke="#000" stroke-width="3.4"/><path d="M108.5,84.7H116.5" stroke="#000" stroke-width="1.8"/><path d="M108.5,111.9H116.5" stroke="#000" stroke-width="1.8"/><path d="M108.5,139.2H116.5" stroke="#000" stroke-width="1.8"/><path d="M108.5,166.4H123.5" stroke="#000" stroke-width="3.4"/><path d="M108.5,193.7H116.5" stroke="#000" stroke-width="1.8"/><path d="M108.5,220.9H116.5" stroke="#000" stroke-width="1.8"/><path d="M108.5,248.2H116.5" stroke="#000" stroke-width="1.8"/><path d="M108.5,275.4H123.5" stroke="#000" stroke-width="3.4"/><path d="M108.5,302.6H116.5" stroke="#000" stroke-width="1.8"/><path d="M108.5,329.9H116.5" stroke="#000" stroke-width="1.8"/><path d="M108.5,357.1H116.5" stroke="#000" stroke-width="1.8"/><path d="M108.5,384.4H123.5" stroke="#000" stroke-width="3.4"/><path d="M108.5,411.6H116.5" stroke="#000" stroke-width="1.8"/><path d="M108.5,438.9H116.5" stroke="#000" stroke-width="1.8"/><path d="M108.5,466.1H116.5" stroke="#000" stroke-width="1.8"/><path d="M108.5,493.4H123.5" stroke="#000" stroke-width="3.4"/><path d="M108.5,520.6H116.5" stroke="#000" stroke-width="1.8"/><path d="M108.5,547.9H116.5" stroke="#000" stroke-width="1.8"/><path d="M108.5,575.1H116.5" stroke="#000" stroke-width="1.8"/><path d="M108.5,602.4H123.5" stroke="#000" stroke-width="3.4"/><path d="M108.5,629.6H116.5" stroke="#000" stroke-width="1.8"/><path d="M108.5,656.9H116.5" stroke="#000" stroke-width="1.8"/><path d="M108.5,684.1H116.5" stroke="#000" stroke-width="1.8"/><path d="M108.5,711.4H123.5" stroke="#000" stroke-width="3.4"/><path d="M108.5,738.6H116.5" stroke="#000" stroke-width="1.8"/><path d="M108.5,765.9H116.5" stroke="#000" stroke-width="1.8"/><path d="M108.5,793.1H116.5" stroke="#000" stroke-width="1.8"/>
<text transform="translate(228.5,863.2) scale(0.975,1)" font-size="46.3" text-anchor="middle">0</text>
<text transform="translate(467.9,863.2) scale(0.975,1)" font-size="46.3" text-anchor="middle">1</text>
<text transform="translate(707.3,863.2) scale(0.975,1)" font-size="46.3" text-anchor="middle">2</text>
<text transform="translate(946.7,863.2) scale(0.975,1)" font-size="46.3" text-anchor="middle">3</text>
<text transform="translate(1186.1,863.2) scale(0.975,1)" font-size="46.3" text-anchor="middle">4</text>
<text transform="translate(97.6,73.0) scale(0.975,1)" font-size="46.3" text-anchor="end">2</text>
<text transform="translate(97.6,182.0) scale(0.975,1)" font-size="46.3" text-anchor="end">4</text>
<text transform="translate(97.6,291.0) scale(0.975,1)" font-size="46.3" text-anchor="end">6</text>
<text transform="translate(97.6,400.0) scale(0.975,1)" font-size="46.3" text-anchor="end">8</text>
<text transform="translate(97.6,509.0) scale(0.975,1)" font-size="46.3" text-anchor="end">10</text>
<text transform="translate(97.6,618.0) scale(0.975,1)" font-size="46.3" text-anchor="end">12</text>
<text transform="translate(97.6,727.0) scale(0.975,1)" font-size="46.3" text-anchor="end">14</text>
<text transform="translate(97.6,836.0) scale(0.975,1)" font-size="46.3" text-anchor="end">16</text>
<text x="603.2" y="912.5" font-size="59.5"><tspan font-style="italic">G</tspan><tspan font-size="40.5" dy="6.8" x="646.9">BP</tspan></text>
<text x="707.2" y="921.7" font-size="74">−</text>
<text x="757" y="912.5" font-size="59.5"><tspan font-style="italic">G</tspan><tspan font-size="41.5" dy="6.8" x="799.4">RP</tspan></text>
<text transform="translate(40.5,453.5) rotate(-90)" font-size="58" font-style="italic">M<tspan font-size="43" dy="7.4">G</tspan></text>
<rect x="656" y="19.5" width="672.7" height="227" rx="13" ry="13" fill="#fff" stroke="#888" stroke-width="2.6"/>
<text class="cb" x="758.4" y="52.2" font-size="37.3" textLength="111" lengthAdjust="spacingAndGlyphs" stroke="#000" stroke-width="0.6" stroke-linejoin="round">This work:</text>
<text class="cb" x="1101.3" y="52.2" font-size="37.3" textLength="113" lengthAdjust="spacingAndGlyphs" stroke="#000" stroke-width="0.6" stroke-linejoin="round">Literature:</text>
<text class="cb" x="912.8" y="178.2" font-size="35.5" textLength="153" lengthAdjust="spacingAndGlyphs" stroke="#000" stroke-width="0.6" stroke-linejoin="round">Other Targets:</text>
<text x="708.9" y="84.0" font-size="28.5" textLength="279.6" lengthAdjust="spacingAndGlyphs">Substellar Companion (2)</text>
<text x="708.9" y="113.5" font-size="28.5" textLength="158.4" lengthAdjust="spacingAndGlyphs">Single Star (5)</text>
<text x="708.9" y="143.8" font-size="28.5" textLength="99.6" lengthAdjust="spacingAndGlyphs">SB2 (21)</text>
<text x="1033.1" y="84.0" font-size="28.5" textLength="291.5" lengthAdjust="spacingAndGlyphs">Substellar Companion (10)</text>
<text x="1033.1" y="114.8" font-size="28.5" textLength="157.6" lengthAdjust="spacingAndGlyphs">Single Star (1)</text>
<text x="1033.1" y="146.4" font-size="28.5" textLength="85.1" lengthAdjust="spacingAndGlyphs">SB2 (2)</text>
<text x="929.0" y="205.7" font-size="28.5" textLength="149.7" lengthAdjust="spacingAndGlyphs">Unknown (32)</text>
<text x="929.0" y="234.7" font-size="28.5" textLength="151.0" lengthAdjust="spacingAndGlyphs">Withdrawn (3)</text>
<polygon class="s2" points="685.9,51.0 691.1,67.1 708.1,67.1 694.4,77.1 699.6,93.2 685.9,83.2 672.2,93.2 677.4,77.1 663.7,67.1 680.7,67.1"/>
<rect x="675.9" y="94.7" width="20.5" height="19.6" fill="#6b93e6" stroke="#4a5a80" stroke-width="1"/>
<rect x="675.9" y="124.5" width="20.5" height="20.2" fill="#cb2f43" stroke="#6a2a33" stroke-width="1"/>
<circle cx="1010" cy="74.6" r="10" fill="#98ee4a" stroke="#667" stroke-width="1.2"/>
<circle cx="1010" cy="105.4" r="10" fill="#6b93e6" stroke="#667" stroke-width="1.2"/>
<circle cx="1010" cy="136.5" r="10" fill="#cb2f43" stroke="#766" stroke-width="1.2"/>
<circle cx="906.7" cy="197.7" r="9.4" fill="#fff" stroke="#111" stroke-width="1.7"/>
<path d="M897.9,217.29999999999998L916.6999999999999,236.1M897.9,236.1L916.6999999999999,217.29999999999998" stroke="#111" stroke-width="6.4" fill="none"/>
</svg></body></html>
